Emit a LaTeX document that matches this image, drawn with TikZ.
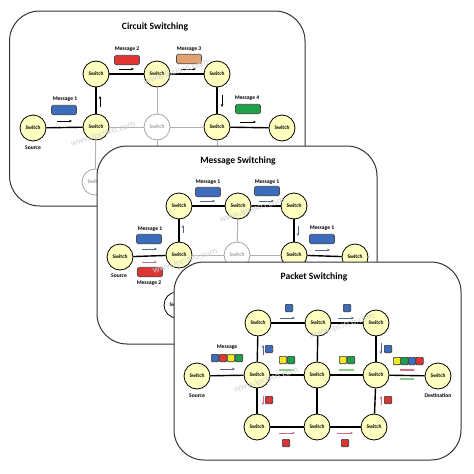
\documentclass[tikz,border=0pt]{standalone}
\usepackage{fontspec}
\setmainfont{Carlito}
\usetikzlibrary{arrows.meta}
\definecolor{swfill}{RGB}{255,255,192}
\definecolor{mblue}{RGB}{60,108,190}
\definecolor{mred}{RGB}{222,52,52}
\definecolor{morange}{RGB}{226,162,112}
\definecolor{mgreen}{RGB}{32,160,72}
\definecolor{myellow}{RGB}{242,232,40}
\definecolor{arrblue}{RGB}{80,100,140}
\definecolor{arrred}{RGB}{205,110,130}
\definecolor{arrgreen}{RGB}{140,205,140}
\tikzset{
  panel/.style={draw=black!80, line width=1pt, rounded corners=30pt, fill=white},
  ttl/.style={font=\bfseries\fontsize{9.6}{11}\selectfont},
  sw/.style={circle, draw=black, line width=0.8pt, fill=swfill, minimum size=26pt, inner sep=0pt, font=\bfseries\fontsize{5.4}{6}\selectfont},
  swg/.style={sw, draw=gray!70, fill=white, text=gray!80},
  swh/.style={sw, fill=white},
  msg/.style={rounded corners=1.5pt, draw=black!70, line width=0.6pt, minimum width=25pt, minimum height=9.5pt, inner sep=0pt},
  pk/.style={rounded corners=1pt, draw=black!80, line width=0.6pt, minimum size=7.4pt, inner sep=0pt},
  lbl/.style={font=\bfseries\fontsize{5.6}{6}\selectfont},
  conn/.style={line width=1.4pt},
  gconn/.style={draw=gray!60, line width=1pt},
  arr/.style={-{Stealth[length=3pt,width=2.6pt]}, line width=0.9pt},
  wm/.style={text=gray!35, font=\fontsize{9.5}{10}\selectfont, rotate=17}
}
\begin{document}
\begin{tikzpicture}[x=1pt,y=-1pt]
\useasboundingbox (0,0) rectangle (474,474);

% ---------------- Circuit Switching ----------------
\draw[panel] (9.5,11) rectangle (305,206);
\node[ttl] (t1) at (155,27) {Circuit Switching};
\node[sw] (c1) at (33,128) {Switch};
\node[sw] (c2) at (96,127) {Switch};
\node[sw] (c3) at (96,74) {Switch};
\node[sw] (c4) at (157,74) {Switch};
\node[sw] (c5) at (217,74) {Switch};
\node[swg] (cg) at (157,127) {Switch};
\node[sw] (c6) at (217,127) {Switch};
\node[sw] (c7) at (282,128) {Switch};
\node[swg] (cb1) at (95,182) {Switch};
\node[swg] (cb2) at (157,182) {Switch};
\node[swg] (cb3) at (217,182) {Switch};
\draw[gconn] (c4) -- (cg);
\draw[gconn] (c2) -- (cg);
\draw[gconn] (cg) -- (c6);
\draw[gconn] (c2) -- (cb1);
\draw[gconn] (cg) -- (cb2);
\draw[gconn] (c6) -- (cb3);
\draw[conn] (c1) -- (c2);
\draw[conn] (c2) -- (c3);
\draw[conn] (c3) -- (c4);
\draw[conn] (c4) -- (c5);
\draw[conn] (c5) -- (c6);
\draw[conn] (c6) -- (c7);
\node[lbl] (cs) at (33,148) {Source};
\node[lbl] (cl1) at (65,99) {Message 1};
\node[msg, fill=mblue] (cm1) at (64,110) {};
\draw[arr] (57,121) -- (72,121);
\draw[arr] (100,107) -- (100,96);
\node[lbl] (cl2) at (127,49) {Message 2};
\node[msg, fill=mred] (cm2) at (127,60) {};
\draw[arr] (119,69) -- (134,69);
\node[lbl] (cl3) at (189,49) {Message 3};
\node[msg, fill=morange] (cm3) at (189,59) {};
\draw[arr] (181,69) -- (196,69);
\draw[arr] (222,95) -- (222,107);
\node[lbl] (cl4) at (247,98) {Message 4};
\node[msg, fill=mgreen] (cm4) at (248,109) {};
\draw[arr] (240,122) -- (256,122);
\node[wm] (w1) at (103,134) {www.ipcisco.com};
\node[wm] (w2) at (176,72) {www.ipcisco.com};

% ---------------- Message Switching ----------------
\draw[panel] (97,146) rectangle (377,344);
\node[ttl] (t2) at (238,161) {Message Switching};
\node[sw] (m1) at (120,257) {Switch};
\node[sw] (m2) at (179,255) {Switch};
\node[sw] (m3) at (179,206) {Switch};
\node[sw] (m4) at (238,206) {Switch};
\node[sw] (m5) at (294,206) {Switch};
\node[swg] (mg) at (237,255) {Switch};
\node[sw] (m6) at (294,255) {Switch};
\node[sw] (m7) at (355,257) {Switch};
\node[swh] (mb) at (177,305) {Switch};
\draw[gconn] (m4) -- (mg);
\draw[gconn] (m2) -- (mg);
\draw[gconn] (mg) -- (m6);
\draw[conn] (m1) -- (m2);
\draw[conn] (m2) -- (m3);
\draw[conn] (m3) -- (m4);
\draw[conn] (m4) -- (m5);
\draw[conn] (m5) -- (m6);
\draw[conn] (m6) -- (m7);
\node[lbl] (ms) at (119,276) {Source};
\node[lbl] (ml1) at (150,229) {Message 1};
\node[msg, fill=mblue] (mm1) at (149,239) {};
\draw[arr, arrblue] (142,249) -- (157,249);
\draw[arr, arrred] (142,262) -- (157,262);
\node[msg, fill=mred] (mm2) at (150,272) {};
\node[lbl] (ml2) at (149,283) {Message 2};
\draw[arr, arrblue] (183,233) -- (183,225);
\node[lbl] (ml3) at (208,182) {Message 1};
\node[msg, fill=mblue] (mm3) at (208,192) {};
\draw[arr, arrblue] (200,201) -- (215,201);
\node[lbl] (ml4) at (267,182) {Message 1};
\node[msg, fill=mblue] (mm4) at (267,191) {};
\draw[arr, arrblue] (259,201) -- (274,201);
\draw[arr, arrblue] (298,226) -- (298,236);
\node[lbl] (ml5) at (322,228) {Message 1};
\node[msg, fill=mblue] (mm5) at (322,239) {};
\draw[arr, arrblue] (315,250) -- (330,250);
\node[wm] (w3) at (252,210) {www.ipcisco.com};
\node[wm] (w4) at (185,261) {www.ipcisco.com};

% ---------------- Packet Switching ----------------
\draw[panel] (174,262) rectangle (461,460);
\node[ttl] (t3) at (314,277) {Packet Switching};
\node[sw] (p1) at (197,376) {Switch};
\node[sw] (p2) at (257,375) {Switch};
\node[sw] (p3) at (258,323) {Switch};
\node[sw] (p4) at (318,323) {Switch};
\node[sw] (p5) at (376,323) {Switch};
\node[sw] (p6) at (317,375) {Switch};
\node[sw] (p7) at (376,375) {Switch};
\node[sw] (p8) at (438,376) {Switch};
\node[sw] (p9) at (257,427) {Switch};
\node[sw] (p10) at (317,427) {Switch};
\node[sw] (p11) at (374,427) {Switch};
\draw[conn] (p1) -- (p2);
\draw[conn] (p2) -- (p3);
\draw[conn] (p3) -- (p4);
\draw[conn] (p4) -- (p5);
\draw[conn] (p5) -- (p7);
\draw[conn] (p7) -- (p8);
\draw[conn] (p2) -- (p6);
\draw[conn] (p6) -- (p7);
\draw[conn] (p2) -- (p9);
\draw[conn] (p9) -- (p10);
\draw[conn] (p10) -- (p11);
\draw[conn] (p11) -- (p7);
\draw[conn] (p4) -- (p6);
\draw[conn] (p6) -- (p10);
\node[lbl] (ps) at (197,396) {Source};
\node[lbl] (pd) at (438,396) {Destination};
\node[lbl] (pl) at (227,347) {Message};
\node[pk, fill=mblue] (q1) at (215,358) {};
\node[pk, fill=mred] (q2) at (223,358) {};
\node[pk, fill=myellow] (q3) at (231,358) {};
\node[pk, fill=mgreen] (q4) at (239,358) {};
\draw[arr, arrblue] (220,369) -- (235,369);
\node[pk, fill=mblue] (q5) at (289,308) {};
\draw[arr, arrblue] (280,318) -- (295,318);
\node[pk, fill=mblue] (q6) at (347,308) {};
\draw[arr, arrblue] (338,318) -- (354,318);
\draw[arr, arrblue] (263,355) -- (263,345);
\node[pk, fill=mblue] (q7) at (269,349) {};
\node[pk, fill=myellow] (q8) at (283,360) {};
\node[pk, fill=mgreen] (q9) at (291,360) {};
\draw[arr, arrgreen, line width=1.3pt] (279,370) -- (295,370);
\node[pk, fill=myellow] (q10) at (343,360) {};
\node[pk, fill=mgreen] (q11) at (351,360) {};
\draw[arr, arrgreen, line width=1.3pt] (339,370) -- (355,370);
\draw[arr, arrblue] (381,343) -- (381,354);
\node[pk, fill=mblue] (q12) at (388,349) {};
\node[pk, fill=myellow] (q13) at (397,361) {};
\node[pk, fill=mgreen] (q14) at (404.5,361) {};
\node[pk, fill=mblue] (q15) at (412,361) {};
\node[pk, fill=mred] (q16) at (419.5,361) {};
\draw[arr, arrred, line width=1.3pt] (400,370) -- (415,370);
\draw[arr, arrgreen, line width=1.3pt] (400,379) -- (415,379);
\draw[arr, arrred] (263,396) -- (263,405);
\node[pk, fill=mred] (q17) at (269,400) {};
\node[pk, fill=mred] (q18) at (286,443) {};
\draw[arr, arrred] (279,433) -- (295,433);
\node[pk, fill=mred] (q19) at (345,443) {};
\draw[arr, arrred] (337,433) -- (353,433);
\draw[arr, arrred] (381,405) -- (381,396);
\node[pk, fill=mred] (q20) at (388,400) {};
\node[wm] (w5) at (266,380) {www.ipcisco.com};
\node[wm] (w6) at (342,326) {www.ipcisco.com};
\end{tikzpicture}
\end{document}
